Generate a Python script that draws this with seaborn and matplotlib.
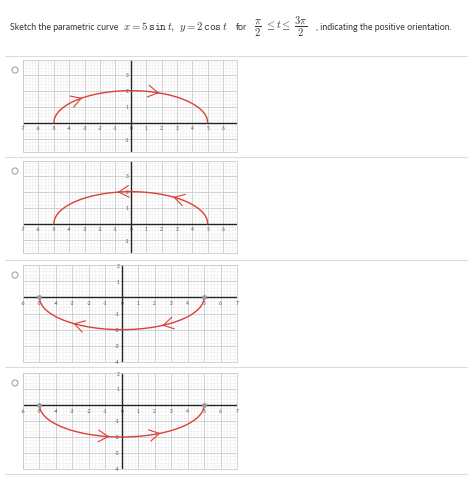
import numpy as np
import matplotlib
matplotlib.use("Agg")
import matplotlib.pyplot as plt
import seaborn as sns
import pandas as pd

sns.set_theme(style="white")
plt.rcParams['font.family'] = ['Lato', 'DejaVu Sans']
plt.rcParams['mathtext.fontset'] = 'cm'

# option curves: (sign of y, direction of arrows)
options = ["upper_right", "upper_left", "lower_left", "lower_right"]
y_sign = [1, 1, -1, -1]
arrow_dir = [1, -1, -1, 1]          # +1: left->right, -1: right->left
arrow_x = [[-3.2, 1.8], [-0.8, 2.8], [-2.9, 2.5], [-0.8, 2.3]]
xlims = [(-7, 6.9), (-7, 6.9), (-6, 7), (-6, 7)]
ylims = [(-1.8, 3.9), (-1.8, 3.9), (-4, 2), (-4, 2)]
tops = [61, 162, 266, 374]
bottoms = [153, 254, 363, 470]
seps = [57, 158, 261, 368, 475]

W, H = 472, 485
fig = plt.figure(figsize=(W/100, H/100), dpi=100)
fig.text(10/W, 1-27/H, "Sketch the parametric curve", fontsize=6.3, color="#333333", va="center")
fig.text(123/W, 1-27/H,
         r"$x = 5\,\mathtt{sin}\,t,\ y = 2\,\mathtt{cos}\,t$",
         fontsize=7.8, color="#333333", va="center")
fig.text(236/W, 1-27/H, "for", fontsize=6.3, color="#333333", va="center")
fig.text(254/W, 1-27/H, r"$\dfrac{\pi}{2}\ \leq t \leq\ \dfrac{3\pi}{2}$",
         fontsize=7.5, color="#333333", va="center")
fig.text(316/W, 1-27/H, ", indicating the positive orientation.", fontsize=6.3, color="#333333", va="center")
for s in seps:
    fig.add_artist(plt.Line2D([5/W, 467/W], [1-s/H, 1-s/H], color="#dddddd", lw=0.8))

red = "#d9413a"
tt = np.linspace(-1, 1, 300)
for i in range(4):
    top, bot = tops[i], bottoms[i]
    ax = fig.add_axes([23/W, 1-bot/H, 214/W, (bot-top)/H])
    fig.add_artist(plt.Circle((15/W, 1-(top+10)/H), 3/W, transform=fig.transFigure,
                              fill=False, ec="#999999", lw=0.7))
    x0, x1 = xlims[i]; y0, y1 = ylims[i]
    ax.set_xlim(x0, x1); ax.set_ylim(y0, y1)
    for v in np.arange(np.ceil(x0*5)/5, x1, 0.2):
        ax.axvline(v, color="#eeeeee", lw=0.4, zorder=0)
    for v in np.arange(np.ceil(y0*5)/5, y1, 0.2):
        ax.axhline(v, color="#eeeeee", lw=0.4, zorder=0)
    for v in range(int(np.ceil(x0)), int(np.floor(x1))+1):
        ax.axvline(v, color="#cccccc", lw=0.6, zorder=0)
    for v in range(int(np.ceil(y0)), int(np.floor(y1))+1):
        ax.axhline(v, color="#cccccc", lw=0.6, zorder=0)
    ax.axhline(0, color="#222222", lw=1.0, zorder=1)
    ax.axvline(0, color="#222222", lw=1.0, zorder=1)
    for v in range(int(np.ceil(x0)), int(np.floor(x1))+1):
        ax.text(v, -0.15*(y1-y0)/5.7, str(v), fontsize=3.5, color="#555555", ha="center", va="top")
    for v in range(int(np.ceil(y0)), int(np.floor(y1))+1):
        if v != 0:
            ax.text(-0.12, v, str(v), fontsize=3.5, color="#555555", ha="right", va="center")
    xs = 5*tt
    ys = y_sign[i]*2*np.sqrt(np.clip(1-tt**2, 0, 1))
    sns.lineplot(x=xs, y=ys, sort=False, color=red, lw=1.0, ax=ax, zorder=3)
    if i >= 2:
        ax.plot([-5, 5], [0, 0], 'o', ms=2.5, color="#999999", zorder=4)
    for xa in arrow_x[i]:
        ya = y_sign[i]*2*np.sqrt(1-(xa/5)**2)
        dx = 0.05*arrow_dir[i]
        ya2 = y_sign[i]*2*np.sqrt(1-((xa+dx)/5)**2)
        ax.annotate("", xy=(xa+dx, ya2), xytext=(xa, ya),
                    arrowprops=dict(arrowstyle="->,head_length=0.6,head_width=0.35", color=red, lw=0.8), zorder=4)
    ax.set_xticks([]); ax.set_yticks([])
    for sp in ax.spines.values():
        sp.set_color("#cccccc"); sp.set_linewidth(0.6)

fig.savefig("out.png", dpi=100)
